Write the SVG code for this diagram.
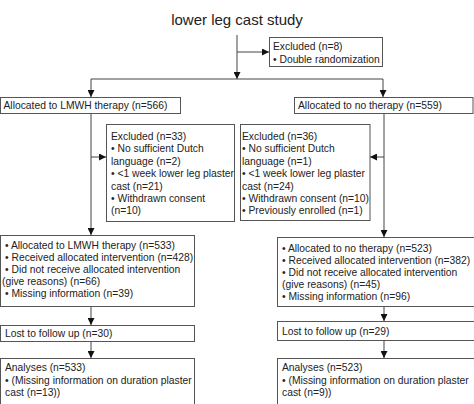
<svg xmlns="http://www.w3.org/2000/svg" width="474" height="404" viewBox="0 0 474 404">
<defs>
<style>
.box{fill:#fff;stroke:#555;stroke-width:1}
.t{font-family:"Liberation Sans",Arial,sans-serif;font-size:10.3px;fill:#222}
.title{font-family:"Liberation Sans",Arial,sans-serif;font-size:15px;fill:#222}
.c{fill:none;stroke:#444;stroke-width:1}
</style>
<marker id="ah" viewBox="0 0 10 10" refX="10" refY="5" markerWidth="7" markerHeight="7" markerUnits="userSpaceOnUse" orient="auto">
<path d="M0,0 L10,5 L0,10 Z" fill="#111"/>
</marker>
</defs>
<rect width="474" height="404" fill="#fff"/>
<g id="title"><text class="title" x="237" y="25" text-anchor="middle">lower leg cast study</text></g>
<g id="connectors">
<line class="c" x1="237" y1="35" x2="237" y2="79" marker-end="url(#ah)"/>
<line class="c" x1="237" y1="52" x2="269" y2="52" marker-end="url(#ah)"/>
<line class="c" x1="91" y1="79" x2="383" y2="79"/>
<line class="c" x1="91" y1="79" x2="91" y2="97" marker-end="url(#ah)"/>
<line class="c" x1="383" y1="79" x2="383" y2="97" marker-end="url(#ah)"/>
<line class="c" x1="91" y1="113" x2="91" y2="235" marker-end="url(#ah)"/>
<line class="c" x1="91" y1="157" x2="106" y2="157" marker-end="url(#ah)"/>
<line class="c" x1="384" y1="113" x2="384" y2="237" marker-end="url(#ah)"/>
<line class="c" x1="384" y1="157" x2="370" y2="157" marker-end="url(#ah)"/>
<line class="c" x1="91" y1="306" x2="91" y2="325" marker-end="url(#ah)"/>
<line class="c" x1="91" y1="341" x2="91" y2="358" marker-end="url(#ah)"/>
<line class="c" x1="384" y1="306" x2="384" y2="321" marker-end="url(#ah)"/>
<line class="c" x1="384" y1="340" x2="384" y2="358" marker-end="url(#ah)"/>
</g>
<g id="excluded-top">
<rect class="box" x="269.5" y="37.5" width="113" height="29"/>
<text class="t" x="273" y="50">Excluded (n=8)</text>
<text class="t" x="273" y="63">• Double randomization</text>
</g>
<g id="alloc-lmwh">
<rect class="box" x="0.5" y="97.5" width="180" height="16"/>
<text class="t" x="3.5" y="109">Allocated to LMWH therapy (n=566)</text>
</g>
<g id="alloc-none">
<rect class="box" x="294.5" y="97.5" width="178.5" height="16"/>
<text class="t" x="298" y="109">Allocated to no therapy (n=559)</text>
</g>
<g id="excluded-left">
<rect class="box" x="106.5" y="124.5" width="128" height="97"/>
<text class="t" x="111" y="140">Excluded (n=33)</text>
<text class="t" x="111" y="152.4">• No sufficient Dutch</text>
<text class="t" x="111" y="164.8">language (n=2)</text>
<text class="t" x="111" y="177.2">• &lt;1 week lower leg plaster</text>
<text class="t" x="111" y="189.6">cast (n=21)</text>
<text class="t" x="111" y="202">• Withdrawn consent</text>
<text class="t" x="111" y="214.4">(n=10)</text>
</g>
<g id="excluded-right">
<rect class="box" x="240.5" y="124.5" width="129.5" height="96"/>
<text class="t" x="242" y="140">Excluded (n=36)</text>
<text class="t" x="242" y="152.4">• No sufficient Dutch</text>
<text class="t" x="242" y="164.8">language (n=1)</text>
<text class="t" x="242" y="177.2">• &lt;1 week lower leg plaster</text>
<text class="t" x="242" y="189.6">cast (n=24)</text>
<text class="t" x="242" y="202">• Withdrawn consent (n=10)</text>
<text class="t" x="242" y="214.4">• Previously enrolled (n=1)</text>
</g>
<g id="intervention-left">
<rect class="box" x="0.5" y="235.5" width="194" height="71"/>
<text class="t" x="5" y="249">• Allocated to LMWH therapy (n=533)</text>
<text class="t" x="5" y="261">• Received allocated intervention (n=428)</text>
<text class="t" x="5" y="273">• Did not receive allocated intervention</text>
<text class="t" x="2" y="285">(give reasons) (n=66)</text>
<text class="t" x="5" y="297">• Missing information (n=39)</text>
</g>
<g id="intervention-right">
<rect class="box" x="277.5" y="237.5" width="200" height="69"/>
<text class="t" x="282" y="251.5">• Allocated to no therapy (n=523)</text>
<text class="t" x="282" y="263.5">• Received allocated intervention (n=382)</text>
<text class="t" x="282" y="275.5">• Did not receive allocated intervention</text>
<text class="t" x="282" y="287.5">(give reasons) (n=45)</text>
<text class="t" x="282" y="299.5">• Missing information (n=96)</text>
</g>
<g id="lost-left">
<rect class="box" x="0.5" y="325.5" width="194" height="16"/>
<text class="t" x="5" y="337">Lost to follow up (n=30)</text>
</g>
<g id="lost-right">
<rect class="box" x="277.5" y="321.5" width="200" height="19"/>
<text class="t" x="282" y="335">Lost to follow up (n=29)</text>
</g>
<g id="analyses-left">
<rect class="box" x="0.5" y="358.5" width="194" height="50"/>
<text class="t" x="5" y="371">Analyses (n=533)</text>
<text class="t" x="5" y="384">• (Missing information on duration plaster</text>
<text class="t" x="5" y="396">cast (n=13))</text>
</g>
<g id="analyses-right">
<rect class="box" x="277.5" y="358.5" width="200" height="50"/>
<text class="t" x="282" y="371">Analyses (n=523)</text>
<text class="t" x="282" y="384">• (Missing information on duration plaster</text>
<text class="t" x="282" y="396">cast (n=9))</text>
</g>
</svg>
